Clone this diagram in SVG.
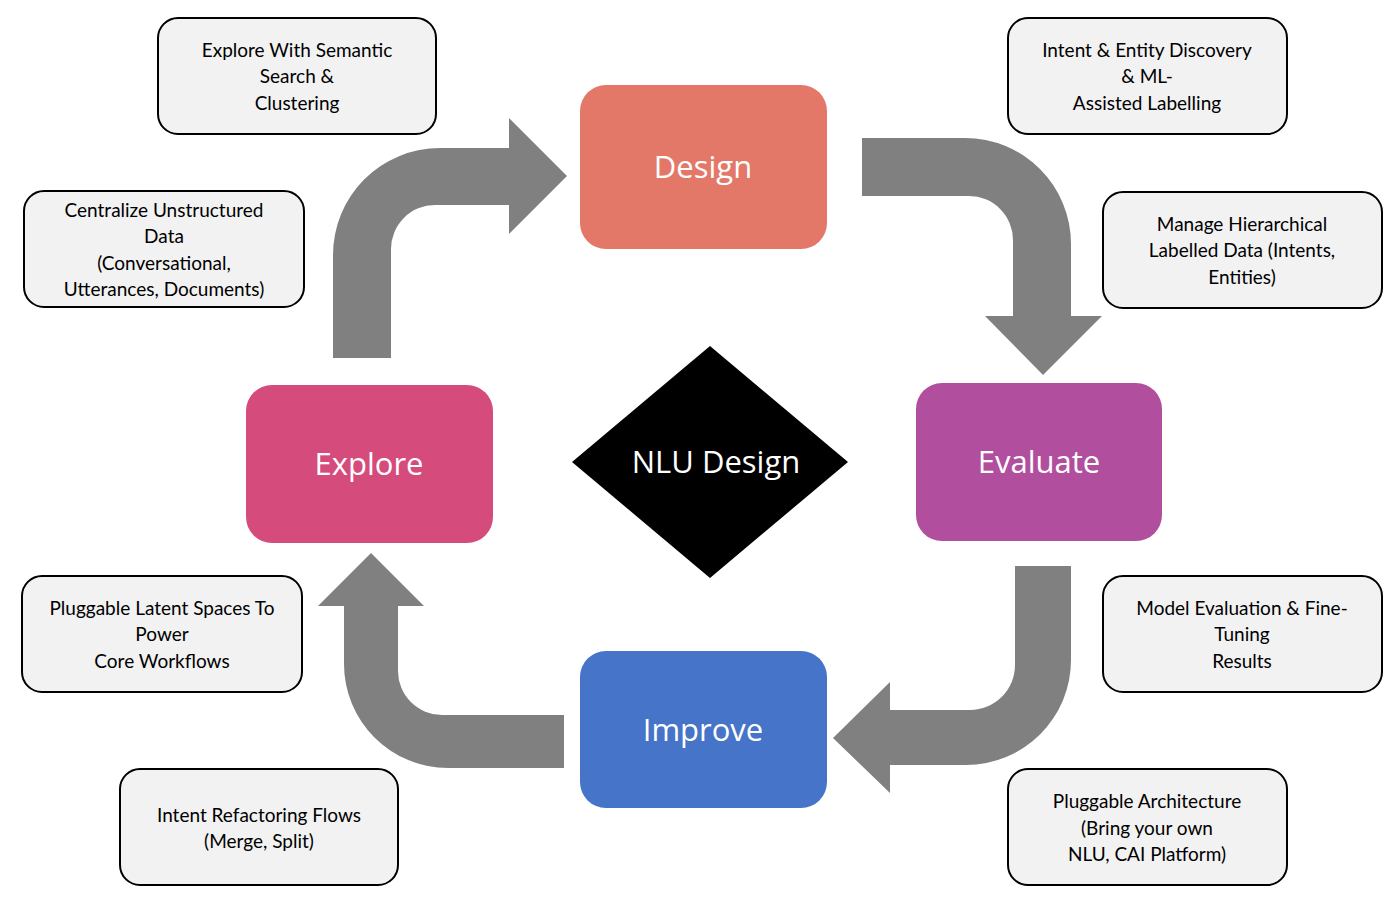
<svg xmlns="http://www.w3.org/2000/svg" width="1400" height="901" viewBox="0 0 1400 901">
<style>
.box{fill:#f2f2f2;stroke:#000;stroke-width:2}
.t{font-family:Lato,"Open Sans",sans-serif;font-size:19px;text-anchor:middle;fill:#000}
.n{font-family:"Open Sans",Lato,sans-serif;font-size:31px;text-anchor:middle;fill:#fff}
.arr{fill:#808080}
</style>
<rect width="1400" height="901" fill="#fff"/>
<g id="connectors">
<path class="arr" d="M333,358 L333,255 A107,107 0 0 1 440,148 L509,148 L509,118 L567,176 L509,234 L509,205 L435,205 A44,44 0 0 0 391,249 L391,358 Z"/>
<path class="arr" d="M862,138 L965,138 A106,106 0 0 1 1071,244 L1071,316 L1102,316 L1043,375 L985,316 L1013,316 L1013,240 A44,44 0 0 0 969,196 L862,196 Z"/>
<path class="arr" d="M1015,566 L1071,566 L1071,660 A105,105 0 0 1 966,765 L890,765 L890,793 L833,738 L890,682 L890,710 L970,710 A45,45 0 0 0 1015,665 Z"/>
<path class="arr" d="M564,715 L442,715 A44,44 0 0 1 398,671 L398,606 L424,606 L371,553 L318,606 L344,606 L344,664 A104,104 0 0 0 448,768 L564,768 Z"/>
</g>
<g id="design"><rect x="580" y="85" width="247" height="164" rx="26" fill="#E37868"/><text class="n" x="703" y="178">Design</text></g>
<g id="explore"><rect x="246" y="385" width="247" height="158" rx="26" fill="#D54B7C"/><text class="n" x="369" y="475">Explore</text></g>
<g id="evaluate"><rect x="916" y="383" width="246" height="158" rx="26" fill="#B14E9E"/><text class="n" x="1039" y="473">Evaluate</text></g>
<g id="improve"><rect x="580" y="651" width="247" height="157" rx="26" fill="#4674C9"/><text class="n" x="703" y="741">Improve</text></g>
<g id="nlu"><polygon points="710,346 848,462 710,578 572,462" fill="#000"/><text class="n" x="716" y="473">NLU Design</text></g>
<g id="b1"><rect class="box" x="158" y="18" width="278" height="116" rx="20"/><text class="t" x="297" y="57">Explore With  Semantic</text><text class="t" x="297" y="83">Search &amp;</text><text class="t" x="297" y="110">Clustering</text></g>
<g id="b2"><rect class="box" x="1008" y="18" width="279" height="116" rx="20"/><text class="t" x="1147" y="57">Intent &amp; Entity Discovery</text><text class="t" x="1147" y="83">&amp; ML-</text><text class="t" x="1147" y="110">Assisted Labelling</text></g>
<g id="b3"><rect class="box" x="24" y="191" width="280" height="116" rx="20"/><text class="t" x="164" y="217">Centralize Unstructured</text><text class="t" x="164" y="243">Data</text><text class="t" x="164" y="270">(Conversational,</text><text class="t" x="164" y="296">Utterances, Documents)</text></g>
<g id="b4"><rect class="box" x="1103" y="192" width="279" height="116" rx="20"/><text class="t" x="1242" y="231">Manage Hierarchical</text><text class="t" x="1242" y="257">Labelled Data (Intents,</text><text class="t" x="1242" y="284">Entities)</text></g>
<g id="b5"><rect class="box" x="22" y="576" width="280" height="116" rx="20"/><text class="t" x="162" y="615">Pluggable Latent Spaces To</text><text class="t" x="162" y="641">Power</text><text class="t" x="162" y="668">Core Workflows</text></g>
<g id="b6"><rect class="box" x="1103" y="576" width="279" height="116" rx="20"/><text class="t" x="1242" y="615">Model Evaluation &amp; Fine-</text><text class="t" x="1242" y="641">Tuning</text><text class="t" x="1242" y="668">Results</text></g>
<g id="b7"><rect class="box" x="120" y="769" width="278" height="116" rx="20"/><text class="t" x="259" y="822">Intent Refactoring Flows</text><text class="t" x="259" y="848">(Merge, Split)</text></g>
<g id="b8"><rect class="box" x="1008" y="769" width="279" height="116" rx="20"/><text class="t" x="1147" y="808">Pluggable Architecture</text><text class="t" x="1147" y="835">(Bring your own</text><text class="t" x="1147" y="861">NLU, CAI Platform)</text></g>
</svg>
